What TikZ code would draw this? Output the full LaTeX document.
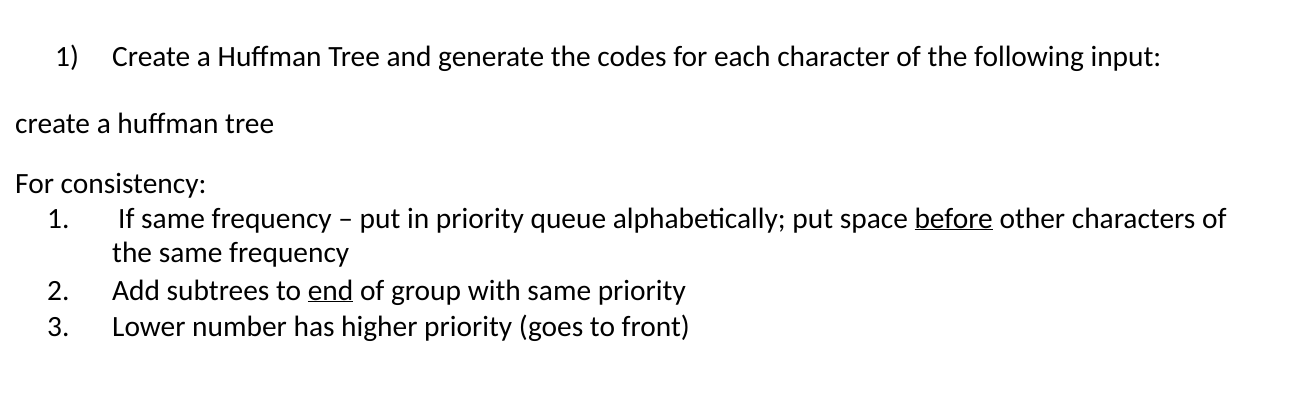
\documentclass[tikz,border=0pt]{standalone}
\usepackage{fontspec}
\setmainfont{Carlito}
\begin{document}
\begin{tikzpicture}[x=1pt,y=-1pt,
  txt/.style={anchor=base west,inner sep=0pt,font=\fontsize{29.4}{34}\selectfont}]
\useasboundingbox (0,0) rectangle (1316,402);
\node[txt] (n1) at (55,66) {1)};
\node[txt] (t1) at (112,66) {Create a Huffman Tree and generate the codes for each character of the following input:};
\node[txt] (in) at (15,133) {create a huffman tree};
\node[txt] (fc) at (15,193) {For consistency:};
\node[txt] (a1) at (47,228) {1.};
\node[txt] (b1) at (118,228) {If same frequency – put in priority queue alphabetically; put space \underline{before} other characters of};
\node[txt] (c1) at (112,262) {the same frequency};
\node[txt] (a2) at (47,300) {2.};
\node[txt] (b2) at (112,300) {Add subtrees to \underline{end} of group with same priority};
\node[txt] (a3) at (47,336) {3.};
\node[txt] (b3) at (112,336) {Lower number has higher priority (goes to front)};
\end{tikzpicture}
\end{document}
